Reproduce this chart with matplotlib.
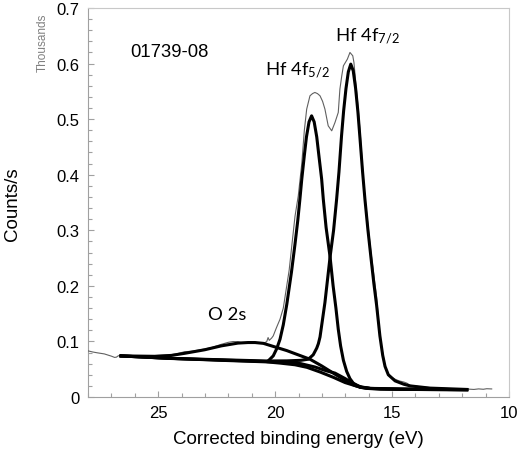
"""XPS Hf 4f / O 2s fit, sample 01739-08"""
import matplotlib
matplotlib.use('Agg')
import matplotlib.pyplot as plt
from matplotlib.ticker import MultipleLocator, FuncFormatter

plt.rcParams.update({'font.family': 'Liberation Sans', 'font.size': 12,
                     'mathtext.fontset': 'custom', 'mathtext.rm': 'Lato',
                     'mathtext.it': 'Lato:italic'})

# measured spectrum (thousands of counts/s)
raw_ev = [28.0, 27.8, 27.6, 27.45, 27.3, 27.15, 27.0, 26.86, 26.78, 26.72, 26.65, 26.3, 26.0,
          25.5, 25.15, 24.8, 24.44, 24.2, 23.87, 23.6, 23.3, 23.01, 22.7, 22.3, 22.0, 21.8,
          21.59, 21.4, 21.16, 20.86, 20.5, 20.36, 20.30, 20.25, 20.15, 20.08, 19.95, 19.79,
          19.65, 19.4, 19.15, 19.01, 18.86, 18.75, 18.65, 18.51, 18.40, 18.30, 18.19, 18.08,
          17.97, 17.87, 17.73, 17.58, 17.44, 17.30, 17.23, 17.15, 17.08, 16.91, 16.80, 16.68,
          16.63, 16.56, 16.46, 16.37, 16.23, 16.16, 15.9, 15.66, 15.52, 15.30, 15.16, 15.0,
          14.87, 14.7, 14.5, 14.37, 14.23, 13.8, 13.38, 13.0, 12.5, 12.0, 11.74, 11.5, 11.3,
          11.1, 10.95, 10.74]
raw_val = [0.083, 0.081, 0.0795, 0.0785, 0.0775, 0.0755, 0.0735, 0.0712, 0.0718, 0.0738, 0.0748,
           0.0745, 0.0742, 0.0738, 0.0745, 0.0752, 0.0762, 0.0778, 0.0815, 0.0822, 0.0842, 0.0864,
           0.0892, 0.0948, 0.0984, 0.0998, 0.0995, 0.0972, 0.0982, 0.0978, 0.0968, 0.0995, 0.107,
           0.102, 0.106, 0.110, 0.124, 0.140, 0.160, 0.228, 0.325, 0.362, 0.42, 0.48, 0.518,
           0.542, 0.546, 0.548, 0.546, 0.542, 0.532, 0.518, 0.488, 0.479, 0.494, 0.512, 0.554,
           0.578, 0.596, 0.608, 0.620, 0.614, 0.602, 0.57, 0.525, 0.48, 0.395, 0.36, 0.26, 0.18,
           0.108, 0.056, 0.041, 0.035, 0.032, 0.029, 0.027, 0.025, 0.021, 0.0185, 0.017, 0.0158,
           0.015, 0.0147, 0.0142, 0.0136, 0.0146, 0.0139, 0.0149, 0.0145]

# fitted components (each drawn on top of background)
f72_ev = [26.65, 24.44, 22.3, 20.36, 19.5, 18.9, 18.58, 18.37, 18.22, 18.15, 18.08, 17.87, 17.65,
          17.50, 17.37, 17.27, 17.16, 17.07, 16.97, 16.87, 16.765, 16.66, 16.56, 16.46, 16.37,
          16.26, 16.16, 16.03, 15.9, 15.78, 15.66, 15.52, 15.40, 15.30, 15.16, 14.87, 14.5,
          14.23, 13.38, 11.74]
f72_val = [0.074, 0.0695, 0.067, 0.0648, 0.065, 0.066, 0.068, 0.076, 0.088, 0.096, 0.108, 0.17,
           0.252, 0.30, 0.356, 0.405, 0.47, 0.515, 0.555, 0.585, 0.599, 0.587, 0.556, 0.513,
           0.465, 0.405, 0.356, 0.30, 0.25, 0.205, 0.165, 0.11, 0.075, 0.055, 0.040, 0.029,
           0.023, 0.020, 0.016, 0.0135]

f52_ev = [26.65, 24.44, 22.3, 20.36, 20.30, 20.08, 19.93, 19.79, 19.65, 19.5, 19.3, 19.15, 19.03,
          18.94, 18.86, 18.75, 18.66, 18.55, 18.44, 18.33, 18.22, 18.13, 18.01, 17.94, 17.82,
          17.65, 17.52, 17.40, 17.30, 17.20, 17.08, 16.94, 16.80, 16.66, 16.37, 16.08, 15.5, 11.74]
f52_val = [0.074, 0.0693, 0.0665, 0.0638, 0.0648, 0.074, 0.087, 0.104, 0.13, 0.167, 0.225, 0.275,
           0.318, 0.356, 0.392, 0.435, 0.468, 0.495, 0.506, 0.495, 0.468, 0.435, 0.392, 0.356,
           0.305, 0.252, 0.20, 0.160, 0.122, 0.092, 0.066, 0.046, 0.033, 0.025, 0.0175, 0.0155,
           0.014, 0.013]

o2s_ev = [26.65, 25.15, 24.44, 23.87, 23.01, 22.30, 21.59, 21.16, 20.86, 20.5, 20.0, 19.5, 19.15,
          18.51, 18.01, 17.44, 17.0, 16.66, 16.37, 15.94, 11.74]
o2s_val = [0.074, 0.0732, 0.0748, 0.0786, 0.085, 0.092, 0.097, 0.098, 0.098, 0.0965, 0.090,
           0.0835, 0.078, 0.068, 0.056, 0.041, 0.030, 0.022, 0.0175, 0.0155, 0.013]

bg_ev = [26.65, 24.44, 22.3, 20.36, 19.79, 19.15, 18.64, 18.08, 17.51, 17.01, 16.51, 15.94, 14.66, 11.74]
bg_val = [0.074, 0.0695, 0.066, 0.0632, 0.061, 0.058, 0.0534, 0.045, 0.0354, 0.026, 0.0195, 0.0155,
          0.0137, 0.013]

bg2_ev = [20.36, 19.5, 18.9, 18.3, 17.8, 17.44, 17.0, 16.66, 16.3, 15.94]
bg2_val = [0.0636, 0.0625, 0.060, 0.054, 0.047, 0.043, 0.033, 0.024, 0.0175, 0.0155]

fig = plt.figure(figsize=(5.2, 4.52), dpi=100, facecolor='white')
ax = fig.add_axes([88/520, 1-398/452, 421/520, 389/452])

ax.plot(raw_ev, raw_val, color='#606060', lw=0.8, zorder=3)
for xs, ys in [(bg_ev, bg_val), (bg2_ev, bg2_val), (o2s_ev, o2s_val),
               (f52_ev, f52_val), (f72_ev, f72_val)]:
    ax.plot(xs, ys, color='black', lw=2.2, solid_capstyle='butt', zorder=4)

ax.set_xlim(28, 10)
ax.set_ylim(0, 0.7)
ax.xaxis.set_major_locator(MultipleLocator(5))
ax.xaxis.set_minor_locator(MultipleLocator(1))
ax.yaxis.set_major_locator(MultipleLocator(0.1))
ax.yaxis.set_minor_locator(MultipleLocator(0.02))
ax.yaxis.set_major_formatter(FuncFormatter(lambda v, p: '0' if abs(v) < 1e-9 else f'{v:.1f}'))
ax.xaxis.set_major_formatter(FuncFormatter(lambda v, p: f'{v:.0f}'))
ax.tick_params(which='both', direction='in', color='#a0a0a0', labelsize=12, width=0.8)
ax.tick_params(which='major', length=4, pad=6)
ax.tick_params(which='minor', length=3)
for s in ['left', 'bottom']:
    ax.spines[s].set_color('#a0a0a0')
for s in ['top', 'right']:
    ax.spines[s].set_color('#c8c8c8')

ax.set_xlabel('Corrected binding energy (eV)', fontsize=13.5, labelpad=7)
fig.text(13/520, 1-204/452, 'Counts/s', rotation=90, ha='center', va='center', fontsize=13.5)
fig.text(42.5/520, 1-42.5/452, 'Thousands', rotation=90, ha='center', va='center',
         fontsize=8.5, color='#808080')

ax.text(26.2, 0.613, '01739-08', fontsize=13.3, ha='left', va='baseline')
ax.text(20.43, 0.581, r'Hf 4f$_{\mathrm{5/2}}$', fontsize=13.3, family='Lato', ha='left', va='baseline')
ax.text(17.44, 0.643, r'Hf 4f$_{\mathrm{7/2}}$', fontsize=13.3, family='Lato', ha='left', va='baseline')
ax.text(22.87, 0.140, 'O 2s', fontsize=13.3, family='Lato', ha='left', va='baseline')

fig.savefig('out.png', dpi=100, facecolor='white')
